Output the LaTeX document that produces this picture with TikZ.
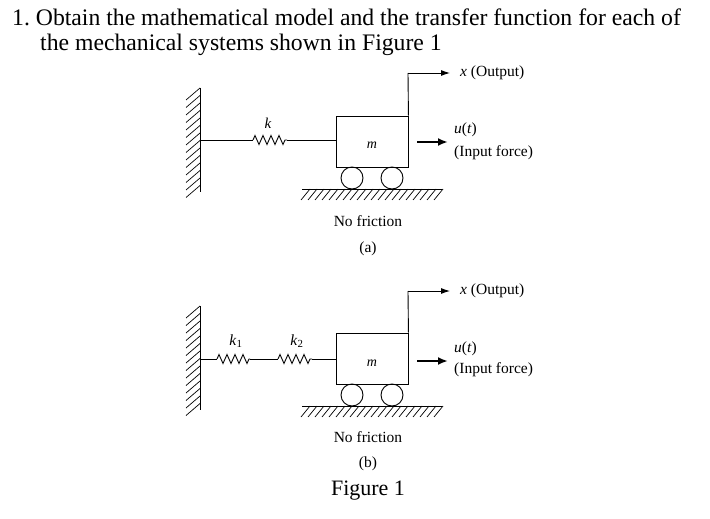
\documentclass[tikz,border=0pt]{standalone}
\usepackage{fontspec}
\setmainfont{Liberation Serif}
\usetikzlibrary{decorations.pathmorphing,arrows.meta}
\begin{document}
\begin{tikzpicture}[x=1pt,y=-1pt,
  line/.style={line width=0.9pt},
  spring/.style={line width=0.9pt,decorate,decoration={zigzag,segment length=8pt,amplitude=4.5pt}},
  hatch/.style={line width=0.7pt},
  lab/.style={font=\fontsize{15.5}{18}\selectfont,inner sep=0pt},
  arr/.style={line width=0.9pt,-{Latex[length=9pt,width=6pt]}},
  farr/.style={line width=2pt,-{Latex[length=10pt,width=8pt]}}]
\useasboundingbox (0,0) rectangle (710,519);
\node[anchor=base west,inner sep=0pt,font=\fontsize{23.7}{26}\selectfont] (t1) at (12,26) {1.\ Obtain the mathematical model and the transfer function for each of};
\node[anchor=base west,inner sep=0pt,font=\fontsize{23.7}{26}\selectfont] (t2) at (40,51) {the mechanical systems shown in Figure 1};
% part (a)
\begin{scope}
\draw[line] (200,88) -- (200,192);
\foreach \y in {88,95.5,...,186} \draw[hatch] (200,\y) -- (186,\y+12);
\coordinate (wa) at (200,140);
\coordinate (s1a) at (253,140);
\coordinate (s1b) at (287,140);
\node[draw,line width=0.9pt,minimum width=72pt,minimum height=51pt,inner sep=0pt] (ma) at (372,141.5) {};
\node[lab,font=\fontsize{14}{16}\itshape] (mla) at (372,145) {m};
\draw[line] (wa) -- (s1a);
\draw[spring] (s1a) -- (s1b);
\draw[line] (s1b) -- (ma.west |- wa);
\node[lab,font=\fontsize{15}{17}\itshape] (ka) at (268,123) {k};
\draw[line] (352,178) circle (11);
\draw[line] (392,178) circle (11);
\draw[line] (302,189) -- (442,189);
\foreach \x in {310,317,...,443} \draw[hatch] (\x,189) -- (\x-9,200);
\coordinate (oa) at (408,73);
\draw[line] (ma.north east) -- (oa);
\coordinate (oae) at (450,73);
\draw[arr] (oa) -- (oae);
\node[lab,anchor=west] (xa) at (460,73) {\textit{x} (Output)};
\coordinate (fa1) at (417,142);
\coordinate (fa2) at (448,142);
\draw[farr] (fa1) -- (fa2);
\node[lab,anchor=west] (ua) at (454,130) {\textit{u}(\textit{t})};
\node[lab,anchor=west] (ia) at (454,153) {(Input force)};
\node[lab] (nfa) at (368,221) {No friction};
\node[lab] (ca) at (368,249) {(a)};
\end{scope}
% part (b)
\begin{scope}[yshift=-218pt]
\draw[line] (200,88) -- (200,192);
\foreach \y in {88,95.5,...,186} \draw[hatch] (200,\y) -- (186,\y+12);
\coordinate (wb) at (200,141);
\coordinate (s2a) at (217,141);
\coordinate (s2b) at (250,141);
\coordinate (s3a) at (278,141);
\coordinate (s3b) at (312,141);
\node[draw,line width=0.9pt,minimum width=72pt,minimum height=51pt,inner sep=0pt] (mb) at (372,140.5) {};
\node[lab,font=\fontsize{14}{16}\itshape] (mlb) at (372,145) {m};
\draw[line] (wb) -- (s2a);
\draw[spring] (s2a) -- (s2b);
\draw[line] (s2b) -- (s3a);
\draw[spring] (s3a) -- (s3b);
\draw[line] (s3b) -- (mb.west |- wb);
\node[lab] (k1) at (236,123) {\textit{k}\textsubscript{1}};
\node[lab] (k2) at (297,123) {\textit{k}\textsubscript{2}};
\draw[line] (352,177) circle (11);
\draw[line] (392,177) circle (11);
\draw[line] (302,188) -- (442,188);
\foreach \x in {310,317,...,443} \draw[hatch] (\x,188) -- (\x-9,199);
\coordinate (ob) at (408,73);
\draw[line] (mb.north east) -- (ob);
\coordinate (obe) at (450,73);
\draw[arr] (ob) -- (obe);
\node[lab,anchor=west] (xb) at (460,73) {\textit{x} (Output)};
\coordinate (fb1) at (417,143);
\coordinate (fb2) at (448,143);
\draw[farr] (fb1) -- (fb2);
\node[lab,anchor=west] (ub) at (454,131) {\textit{u}(\textit{t})};
\node[lab,anchor=west] (ib) at (454,152) {(Input force)};
\node[lab] (nfb) at (368,219) {No friction};
\node[lab] (cb) at (368,246) {(b)};
\end{scope}
\node[inner sep=0pt,font=\fontsize{22}{24}\selectfont] (fig) at (368,491) {Figure 1};
\end{tikzpicture}
\end{document}
